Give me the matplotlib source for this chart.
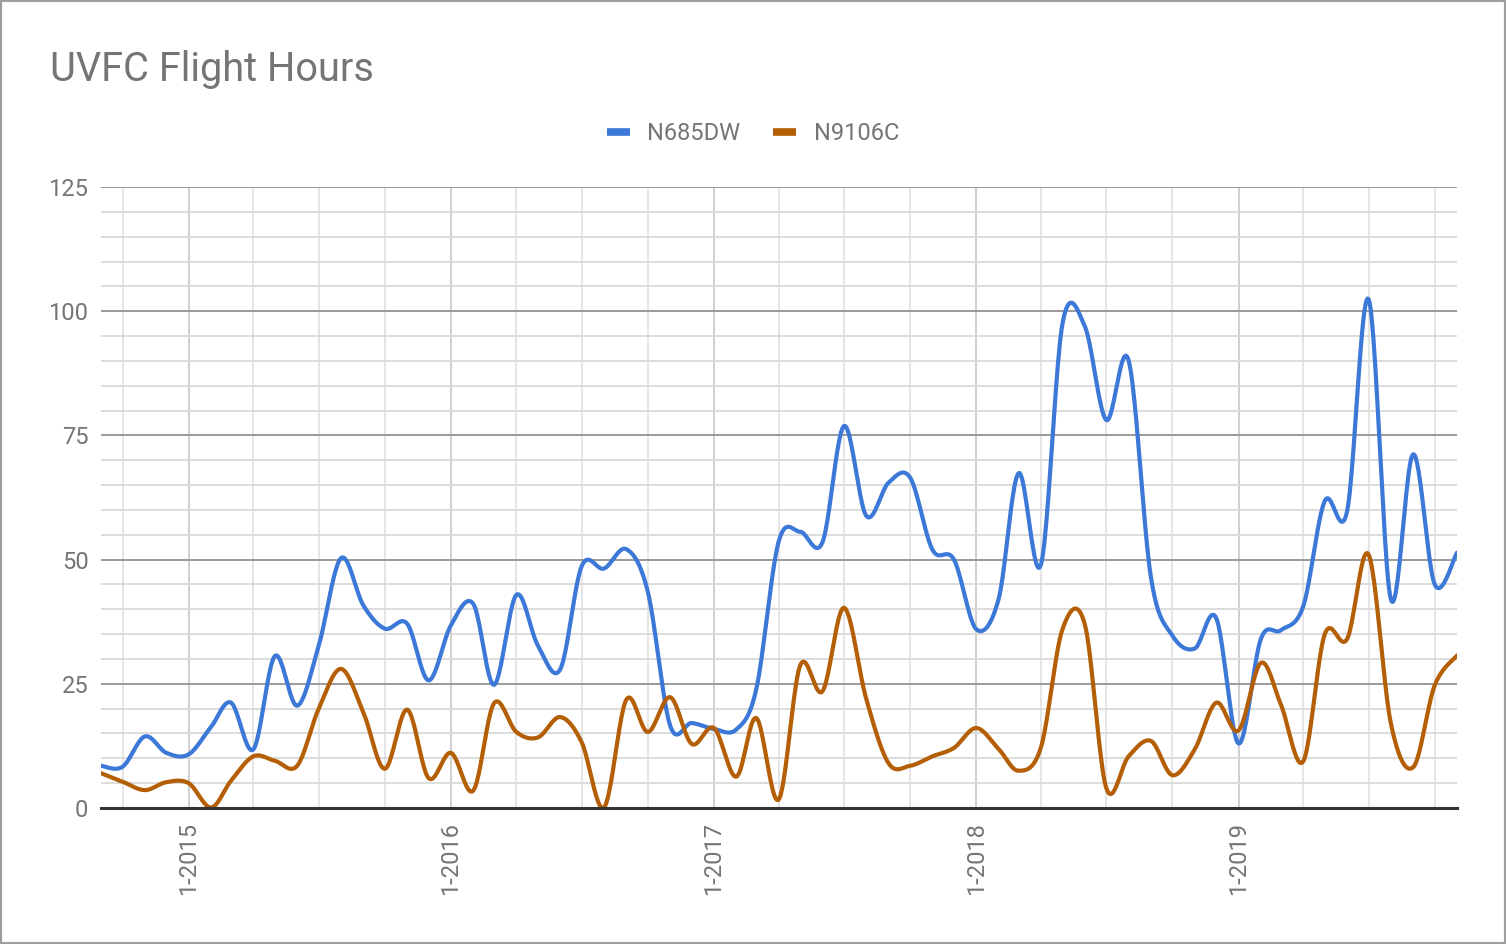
import numpy as np
import pandas as pd
import matplotlib
matplotlib.use("Agg")
import matplotlib.pyplot as plt
import matplotlib.dates as mdates
from matplotlib.ticker import MultipleLocator
from matplotlib.lines import Line2D
from matplotlib.patches import Rectangle

plt.rcParams['font.family'] = ['Roboto', 'DejaVu Sans']

# monthly flight hours, Sep 2014 .. Nov 2019
months = pd.date_range("2014-09-01", "2019-11-01", freq="MS")

n685dw = [8.5, 8.3, 14.4, 11.1,
          10.8, 16.3, 21.2, 11.8, 30.6, 20.6, 32.7, 50.3, 40.8, 36.1, 37.1, 25.7,
          36.8, 41.1, 24.8, 42.9, 32.7, 27.9, 48.7, 48.2, 52.1, 43.5, 16.6, 17.1,
          15.9, 15.8, 24.0, 53.6, 55.6, 53.5, 76.9, 58.8, 65.5, 66.5, 52.0, 50.0,
          36.0, 42.0, 67.4, 49.0, 97.5, 97.0, 78.1, 90.1, 46.5, 34.7, 32.1, 38.2,
          13.0, 34.0, 35.8, 40.6, 61.8, 59.7, 102.4, 42.0, 71.2, 45.0, 51.4]

n9106c = [7.0, 5.3, 3.6, 5.2,
          5.0, 0.1, 5.5, 10.4, 9.5, 8.5, 20.0, 28.0, 19.3, 7.9, 19.8, 6.0,
          11.1, 3.5, 21.1, 15.3, 14.2, 18.3, 13.2, 0.1, 21.8, 15.3, 22.3, 12.9,
          16.1, 6.3, 18.1, 1.7, 28.7, 23.5, 40.3, 21.9, 9.0, 8.5, 10.4, 12.1,
          16.1, 11.9, 7.5, 12.2, 36.0, 37.0, 4.0, 10.4, 13.5, 6.6, 11.8, 21.2,
          15.6, 29.2, 20.8, 9.4, 35.0, 34.0, 51.0, 17.0, 8.2, 24.7, 30.7]

series_names = ["N685DW", "N9106C"]
series_colors = ["#3c78d8", "#b45f06"]


def smooth(x, y, steps=24):
    # catmull-rom style bezier through the points (like the sheets "smooth" line)
    x = np.asarray(x, float)
    y = np.asarray(y, float)
    px = np.concatenate([[x[0]], x, [x[-1]]])
    py = np.concatenate([[y[0]], y, [y[-1]]])
    t = np.linspace(0, 1, steps)
    xs, ys = [], []
    for i in range(1, len(px) - 2):
        c1x = px[i] + (px[i + 1] - px[i - 1]) / 6
        c1y = py[i] + (py[i + 1] - py[i - 1]) / 6
        c2x = px[i + 1] - (px[i + 2] - px[i]) / 6
        c2y = py[i + 1] - (py[i + 2] - py[i]) / 6
        b0 = (1 - t) ** 3
        b1 = 3 * (1 - t) ** 2 * t
        b2 = 3 * (1 - t) * t ** 2
        b3 = t ** 3
        xs.append(b0 * px[i] + b1 * c1x + b2 * c2x + b3 * px[i + 1])
        ys.append(b0 * py[i] + b1 * c1y + b2 * c2y + b3 * py[i + 1])
    return np.concatenate(xs), np.concatenate(ys)


fig = plt.figure(figsize=(15.06, 9.44), dpi=100)
ax = fig.add_axes([101 / 1506, 1 - 808 / 944, 1356 / 1506, 621 / 944])

xnum = mdates.date2num(months)
for vals, name, col in zip([n685dw, n9106c], series_names, series_colors):
    sx, sy = smooth(xnum, vals)
    ax.plot(sx, sy, color=col, lw=3.0, label=name, zorder=3,
            solid_capstyle="round", solid_joinstyle="round")

ax.set_xlim(xnum[0], xnum[-1])
ax.set_ylim(0, 125)

ax.yaxis.set_major_locator(MultipleLocator(25))
ax.yaxis.set_minor_locator(MultipleLocator(5))
ax.xaxis.set_major_locator(mdates.YearLocator())
ax.xaxis.set_major_formatter(mdates.DateFormatter("1-%Y"))
ax.xaxis.set_minor_locator(mdates.MonthLocator(bymonth=[1, 4, 7, 10]))

ax.grid(which="major", axis="y", color="#9a9a9a", lw=1.4, zorder=1)
ax.grid(which="minor", axis="y", color="#d9d9d9", lw=1.3, zorder=0)
ax.grid(which="minor", axis="x", color="#e3e3e3", lw=1.3, zorder=0)
ax.grid(which="major", axis="x", color="#cccccc", lw=1.3, zorder=0.5)
ax.set_axisbelow(True)
ax.axhline(0, color="#333333", lw=2.2, zorder=4, clip_on=False)

for s in ax.spines.values():
    s.set_visible(False)
ax.tick_params(which="both", length=0)
ax.tick_params(axis="y", labelsize=17, labelcolor="#757575", pad=9)
ax.tick_params(axis="x", labelsize=17, labelcolor="#757575", pad=10,
               labelrotation=90)

fig.text(50 / 1506, 1 - 81 / 944, "UVFC Flight Hours", fontsize=28.6,
         color="#757575", ha="left", va="baseline")

handles = [Line2D([], [], color=c, lw=5.5, solid_capstyle="butt")
           for c in series_colors]
fig.legend(handles, series_names, loc="center", bbox_to_anchor=(0.5, 1 - 134 / 944),
           ncol=2, frameon=False, fontsize=17, labelcolor="#757575",
           handlelength=0.95, handletextpad=0.75, columnspacing=1.4)

fig.patches.append(Rectangle((0, 0), 1, 1, transform=fig.transFigure,
                             fill=False, edgecolor="#9e9e9e", lw=3))

fig.savefig("out.png", dpi=100)
